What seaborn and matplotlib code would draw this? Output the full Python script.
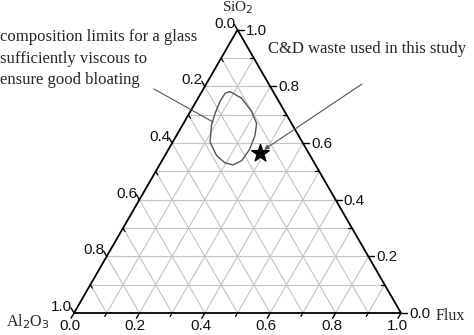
import numpy as np
import pandas as pd
import matplotlib
matplotlib.use("Agg")
import matplotlib.pyplot as plt
import seaborn as sns

# ---------------- data ----------------
tick_values = [0.0, 0.2, 0.4, 0.6, 0.8, 1.0]
tick_labels = ["0.0", "0.2", "0.4", "0.6", "0.8", "1.0"]
minor_values = [0.1, 0.3, 0.5, 0.7, 0.9]
grid_values = [0.1, 0.2, 0.3, 0.4, 0.5, 0.6, 0.7, 0.8, 0.9]

# closed region: composition limits (SiO2 and Flux fractions)
region_sio2 = [0.782, 0.758, 0.711, 0.669, 0.627, 0.580, 0.538, 0.523,
               0.530, 0.556, 0.604, 0.663, 0.705, 0.746, 0.776, 0.782]
region_flux = [0.086, 0.134, 0.188, 0.224, 0.240, 0.248, 0.244, 0.225,
               0.197, 0.158, 0.114, 0.089, 0.079, 0.073, 0.074, 0.086]

# C&D waste composition
cd_sio2 = [0.566]
cd_flux = [0.286]

# ---------------- helpers ----------------
H = np.sqrt(3) / 2


def tern(sio2, flux):
    s = np.asarray(sio2, float)
    f = np.asarray(flux, float)
    return f + s / 2, s * H


W, HT = 474, 335
X0, Y0, SC = 74.0, 313.0, 327.0


def px(x, y):
    return (x - X0) / SC, (Y0 - y) / SC


sns.set_theme(style="white")
plt.rcParams["font.family"] = ["Liberation Sans", "DejaVu Sans"]

fig = plt.figure(figsize=(W / 100, HT / 100), dpi=100)
ax = fig.add_axes([0, 0, 1, 1])
ax.set_xlim(-X0 / SC, (W - X0) / SC)
ax.set_ylim((Y0 - HT) / SC, Y0 / SC)
ax.axis("off")

grid_kw = dict(color="#c4c4c4", lw=0.8, zorder=1)
for v in grid_values:
    x, y = tern([v, v], [0, 1 - v])
    ax.plot(x, y, **grid_kw)
    x, y = tern([0, 1 - v], [v, v])
    ax.plot(x, y, **grid_kw)
    x, y = tern([1 - v, 0], [0, 1 - v])
    ax.plot(x, y, **grid_kw)

# triangle border
bx, by = tern([0, 0, 1, 0], [0, 1, 0, 0])
ax.plot(bx, by, color="black", lw=1.3, zorder=3, solid_joinstyle="miter")

# ticks
tl = 6 / SC
tlm = 4 / SC
c60, s60 = 0.5, H
lab_kw = dict(fontsize=11, color="#111111", family=["Liberation Sans", "DejaVu Sans"])
for v, lab in zip(tick_values, tick_labels):
    # bottom axis: Flux
    x, y = tern(0, v)
    ex, ey = x - tl * c60, y - tl * s60
    ax.plot([x, ex], [y, ey], color="black", lw=1.0, zorder=3)
    ax.text(ex - 1 / SC, ey - 1 / SC, lab, ha="center", va="top", **lab_kw)
    # right axis: SiO2
    x, y = tern(v, 1 - v)
    ex, ey = x + tl, y
    ax.plot([x, ex], [y, ey], color="black", lw=1.0, zorder=3)
    ax.text(ex + 2 / SC, ey - 1 / SC, lab, ha="left", va="center", **lab_kw)
    # left axis: Al2O3
    x, y = tern(1 - v, 0)
    ex, ey = x - tl * c60, y + tl * s60
    ax.plot([x, ex], [y, ey], color="black", lw=1.0, zorder=3)
    ax.text(ex + 1 / SC, ey + 1 / SC, lab, ha="right", va="center", **lab_kw)

for v in minor_values:
    x, y = tern(0, v)
    ax.plot([x, x - tlm * c60], [y, y - tlm * s60], color="black", lw=0.9, zorder=3)
    x, y = tern(v, 1 - v)
    ax.plot([x, x - tlm], [y, y], color="black", lw=0.9, zorder=3)
    x, y = tern(1 - v, 0)
    ax.plot([x, x + tlm * c60], [y, y - tlm * s60], color="black", lw=0.9, zorder=3)

# region outline
rx, ry = tern(region_sio2, region_flux)
df_region = pd.DataFrame({"x": rx, "y": ry})
sns.lineplot(data=df_region, x="x", y="y", sort=False, estimator=None,
             color="#555555", lw=1.0, ax=ax, zorder=4)

# C&D waste point
cx, cy = tern(cd_sio2, cd_flux)
df_cd = pd.DataFrame({"x": cx, "y": cy})
sns.scatterplot(data=df_cd, x="x", y="y", marker="*", s=170, color="black",
                edgecolor="black", ax=ax, zorder=5)
ax.set_xlabel("")
ax.set_ylabel("")

serif = ["Liberation Serif", "DejaVu Serif"]
# vertex labels
ax.text(*px(238, 8), "SiO$_2$", ha="center", va="center", fontsize=11,
        family=serif)
ax.text(*px(28, 322), "Al$_2$O$_3$", ha="center", va="center", fontsize=11.5,
        family=serif)
ax.text(*px(436, 316), "Flux", ha="left", va="center", fontsize=11.5,
        family=serif)

# annotations
ax.text(*px(0, 37), "composition limits for a glass", ha="left", va="center",
        fontsize=12, family=serif)
ax.text(*px(0, 59), "sufficiently viscous to", ha="left", va="center",
        fontsize=12, family=serif)
ax.text(*px(0, 80), "ensure good bloating", ha="left", va="center",
        fontsize=12, family=serif)
ax.plot(*zip(px(154, 89), px(213, 122)), color="#555555", lw=0.8, zorder=4)

ax.text(*px(268, 49), "C&D waste used in this study", ha="left", va="center",
        fontsize=12, family=serif)
ax.annotate("", xy=(cx[0] + 4 / SC, cy[0] + 3 / SC), xytext=px(362, 84),
            arrowprops=dict(arrowstyle="-|>", color="#555555", lw=0.8,
                            mutation_scale=7, shrinkA=0, shrinkB=0),
            zorder=4)

fig.savefig("out.png", dpi=100, facecolor="white")
